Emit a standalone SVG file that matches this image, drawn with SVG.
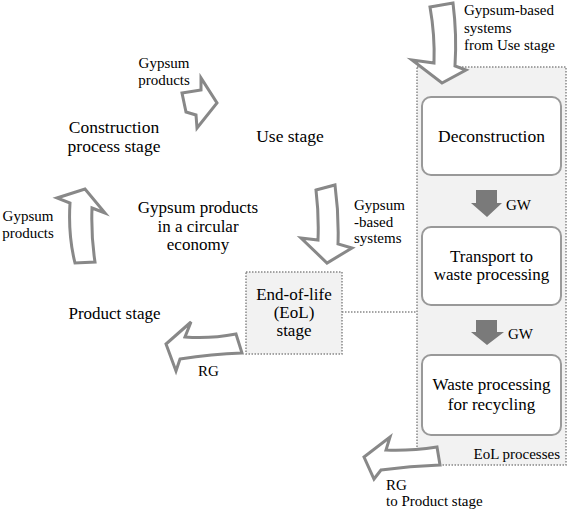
<svg xmlns="http://www.w3.org/2000/svg" width="568" height="514" viewBox="0 0 568 514" font-family="Liberation Serif, serif">
<style>
.s15{font-size:15px}
.s17{font-size:17px}
.s175{font-size:17.5px}
.c{text-anchor:middle}
.dot{fill:#f2f2f2;stroke:#888;stroke-width:1.5;stroke-dasharray:1.5 1.5}
.box{fill:#fff;stroke:#999;stroke-width:2}
.blk{fill:#fff;stroke:#888;stroke-width:3;stroke-linejoin:miter}
.gw{fill:#7a7a7a}
</style>
<rect width="568" height="514" fill="#fff"/>
<g id="eol-processes">
<rect class="dot" x="417" y="67" width="149" height="398"/>
<text class="s15" x="560" y="459" text-anchor="end" font-family="Liberation Serif, serif">EoL processes</text>
</g>
<g id="eol-stage" font-family="Liberation Serif, serif">
<rect class="dot" x="246" y="272" width="96" height="82"/>
<text class="s17 c" x="294" y="300">End-of-life</text>
<text class="s17 c" x="294" y="318">(EoL)</text>
<text class="s17 c" x="294" y="336">stage</text>
</g>
<g id="deconstruction" font-family="Liberation Serif, serif">
<rect class="box" x="422" y="97" width="139" height="78" rx="9"/>
<text class="s175 c" x="491.5" y="142">Deconstruction</text>
</g>
<g id="transport" font-family="Liberation Serif, serif">
<rect class="box" x="422" y="227" width="139" height="78" rx="9"/>
<text class="s17 c" x="491.5" y="262">Transport to</text>
<text class="s17 c" x="491.5" y="280">waste processing</text>
</g>
<g id="waste-processing" font-family="Liberation Serif, serif">
<rect class="box" x="422" y="355" width="139" height="80" rx="9"/>
<text class="s17 c" x="491.5" y="390">Waste processing</text>
<text class="s17 c" x="491.5" y="410">for recycling</text>
</g>
<g id="construction" font-family="Liberation Serif, serif">
<text class="s175 c" x="114" y="133">Construction</text>
<text class="s175 c" x="114" y="152">process stage</text>
</g>
<g id="use-stage" font-family="Liberation Serif, serif">
<text class="s175 c" x="290" y="142">Use stage</text>
</g>
<g id="product-stage" font-family="Liberation Serif, serif">
<text class="s17 c" x="114.5" y="319">Product stage</text>
</g>
<g id="center-label" font-family="Liberation Serif, serif">
<text class="s17 c" x="198" y="213">Gypsum products</text>
<text class="s17 c" x="198" y="231.5">in a circular</text>
<text class="s17 c" x="198" y="250">economy</text>
</g>
<g id="connectors" font-family="Liberation Serif, serif">
<line x1="342" y1="312" x2="417" y2="312" stroke="#888" stroke-width="1.5" stroke-dasharray="1.5 1.5"/>
<path class="blk" d="M182,93 L201,90 L201,78 L217,103 L197,128 L196,115 L186,112 Z"/>
<path class="blk" d="M75,263 Q68,235 70,203 L57,198 L85,189 L105,213 L92,208 Q91,236 95,262 Z"/>
<path class="blk" d="M242,353 Q212,354 180,359 L176,371 L166,344 L191,322 L185,337 Q210,339 236,334 Z"/>
<path class="blk" d="M316,190 L335,185 Q339,215 338,244 L352,248 L327,263 L301,238 L318,240 Q319,215 316,190 Z"/>
<path class="blk" d="M430,7 L453,3 Q457,35 455,66 L466,70 L442,83 L412,60 L434,63 Q435,35 430,7 Z"/>
<path class="blk" d="M440,465 Q410,466 381,470 L374,479 L364,457 L390,437 L386,450 Q410,451 437,447 Z"/>
<path class="gw" d="M476,190 L497,190 L497,203 L502,203 L487,217 L471,203 L476,203 Z"/>
<path class="gw" d="M476,320 L497,320 L497,332 L504,332 L487,345 L471,332 L476,332 Z"/>
<text class="s15" x="506" y="210">GW</text>
<text class="s15" x="508" y="339">GW</text>
<text class="s15 c" x="164" y="68">Gypsum</text>
<text class="s15 c" x="164" y="85">products</text>
<text class="s15 c" x="28" y="221">Gypsum</text>
<text class="s15 c" x="28" y="238">products</text>
<text class="s15" x="354" y="210">Gypsum</text>
<text class="s15" x="354" y="227">-based</text>
<text class="s15" x="354" y="243">systems</text>
<text class="s15" x="464" y="15">Gypsum-based</text>
<text class="s15" x="464" y="33">systems</text>
<text class="s15" x="464" y="50">from Use stage</text>
<text class="s15" x="198" y="376">RG</text>
<text class="s15" x="386" y="490">RG</text>
<text class="s15" x="386" y="506">to Product stage</text>
</g>
</svg>
